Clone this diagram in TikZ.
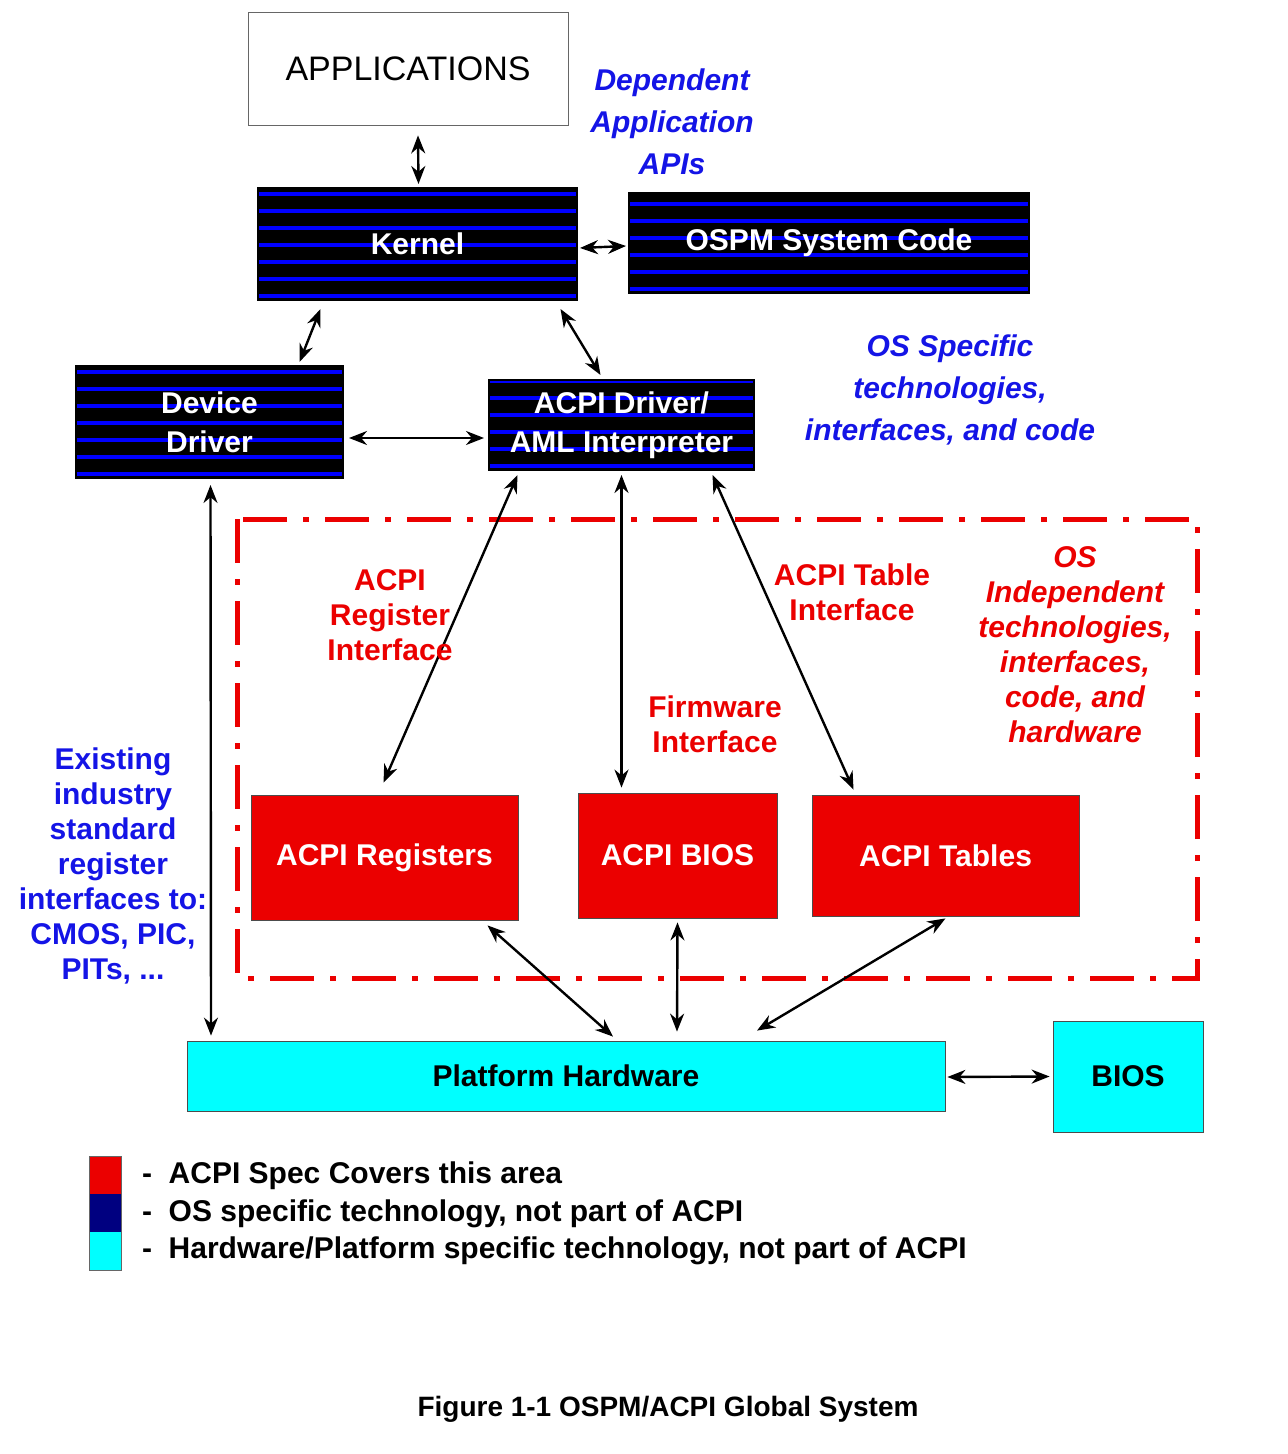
\documentclass[tikz,border=0pt]{standalone}
\usepackage{fontspec}
\setmainfont{Liberation Sans}
\usetikzlibrary{calc,arrows.meta}
\definecolor{acred}{RGB}{235,0,0}
\definecolor{accyan}{RGB}{0,255,255}
\definecolor{acnavy}{RGB}{0,0,128}
\definecolor{acblue}{RGB}{20,20,230}
\begin{document}
\begin{tikzpicture}[x=0.5pt,y=-0.5pt,
  f/.style={font=\fontsize{15}{17.5}\selectfont\bfseries},
  striped/.style={draw=black,fill=black,line width=1pt,text=white,f,align=center,
    path picture={\foreach \k in {0,...,14}{\draw[blue,line width=2.2pt]
      ([yshift=\k*8.5pt+2pt]path picture bounding box.south west) --
      ([yshift=\k*8.5pt+2pt]path picture bounding box.south east);}}},
  redbox/.style={draw=black!70,fill=acred,text=white,f,align=center},
  cyanbox/.style={draw=black!70,fill=accyan,text=black,f,align=center},
  arr/.style={{Stealth[length=9pt,width=7pt]}-{Stealth[length=9pt,width=7pt]},line width=1.2pt},
  bl/.style={text=acblue,f,align=center},
  rd/.style={text=acred,f,align=center}]
\useasboundingbox (0,0) rectangle (1288,1454);
\node[draw=black!60,fill=white,minimum width=160pt,minimum height=56.5pt,
  font=\fontsize{17}{20}\selectfont] (apps) at (408,68.5) {APPLICATIONS};
\node[striped,minimum width=159.5pt,minimum height=56pt] (kernel) at (417.5,244) {Kernel};
\node[striped,minimum width=200pt,minimum height=50pt] (ospm) at (829,243) {OSPM System Code};
\node[striped,minimum width=133.5pt,minimum height=56pt] (dd) at (209.5,422) {Device\\[2pt]Driver};
\node[striped,minimum width=132.5pt,minimum height=45pt] (acpi) at (621.5,425) {ACPI Driver/\\[2pt]AML Interpreter};
\draw[acred,line width=2.5pt,dash pattern=on 22pt off 8pt on 3pt off 8pt] (237,519) rectangle (1197,978);
\node[redbox,minimum width=133.5pt,minimum height=62.5pt] (reg) at (384.5,857.5) {ACPI Registers};
\node[redbox,minimum width=99.5pt,minimum height=62.5pt] (abios) at (677.5,855.5) {ACPI BIOS};
\node[redbox,minimum width=133.5pt,minimum height=60.5pt] (tab) at (945.5,855.5) {ACPI Tables};
\node[cyanbox,minimum width=379pt,minimum height=35pt] (plat) at (566,1076) {Platform Hardware};
\node[cyanbox,minimum width=75pt,minimum height=55.5pt] (bios) at (1128,1076.5) {BIOS};

\draw[arr] ($(apps.south)+(10,10)$) -- ($(kernel.north)+(1,-3)$);
\draw[arr] ($(kernel.east)+(2,4)$) -- ($(ospm.west)+(-2,3)$);
\draw[arr] ($(kernel.south)+(-97,8)$) -- ($(dd.north)+(90,-3)$);
\draw[arr] ($(kernel.south)+(143,8)$) -- ($(acpi.north)+(-21,-4)$);
\draw[arr] ($(dd.east)+(5,16)$) -- ($(acpi.west)+(-4,13)$);
\draw[arr] ($(acpi.south)+(-104,4)$) -- ($(reg.north)+(-1,-12)$);
\draw[arr] ($(acpi.south)+(0,4)$) -- ($(abios.north)+(-56,-5)$);
\draw[arr] ($(acpi.south)+(91,4)$) -- ($(tab.north)+(-92,-5)$);
\draw[arr] ($(dd.south)+(1,6)$) -- ($(plat.north)+(-355,-5)$);
\draw[arr] ($(reg.south)+(103,5)$) -- ($(plat.north)+(47,-4)$);
\draw[arr] ($(abios.south)+(0,4)$) -- ($(plat.north)+(111,-9)$);
\draw[arr] ($(tab.south)+(0,2)$) -- ($(plat.north)+(191,-10)$);
\draw[arr] ($(plat.east)+(2,1)$) -- ($(bios.west)+(-3,0)$);

\node[bl,font=\fontsize{15}{21}\selectfont\bfseries\itshape] (t1) at (672,122) {Dependent\\Application\\APIs};
\node[bl,font=\fontsize{15}{21}\selectfont\bfseries\itshape] (t2) at (950,390) {OS Specific\\technologies,\\interfaces, and code};
\node[bl,font=\fontsize{15}{17.5}\selectfont\bfseries] (t3) at (113,866) {Existing\\industry\\standard\\register\\interfaces to:\\CMOS, PIC,\\PITs, ...};
\node[rd,font=\fontsize{15}{17.5}\selectfont\bfseries] (t4) at (390,615) {ACPI\\Register\\Interface};
\node[rd,font=\fontsize{15}{17.5}\selectfont\bfseries] (t5) at (852,592) {ACPI Table\\Interface};
\node[rd,font=\fontsize{15}{17.5}\selectfont\bfseries] (t6) at (715,724) {Firmware\\Interface};
\node[rd,font=\fontsize{15}{17.5}\selectfont\bfseries\itshape] (t7) at (1075,645) {OS\\Independent\\technologies,\\interfaces,\\code, and\\hardware};

\fill[acred] (89,1156) rectangle (121,1194);
\fill[acnavy] (89,1194) rectangle (121,1232);
\fill[accyan] (89,1232) rectangle (121,1270);
\draw[black!60] (89,1156) rectangle (121,1270);
\node[f,anchor=west] (l1) at (135,1176) {-\ \ ACPI Spec Covers this area};
\node[f,anchor=west] (l2) at (135,1214) {-\ \ OS specific technology, not part of ACPI};
\node[f,anchor=west] (l3) at (135,1251) {-\ \ Hardware/Platform specific technology, not part of ACPI};
\node[font=\fontsize{14}{16}\selectfont\bfseries] (cap) at (668,1409) {Figure 1-1 OSPM/ACPI Global System};
\end{tikzpicture}
\end{document}
